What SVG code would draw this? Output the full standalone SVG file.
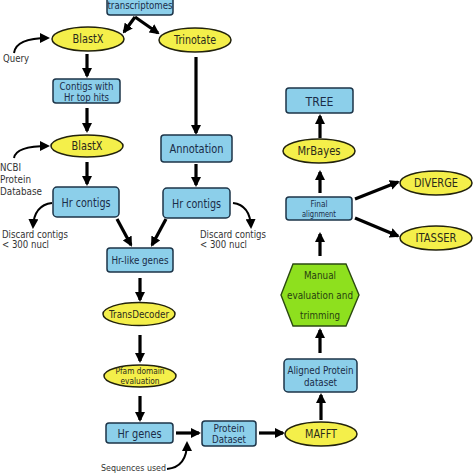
<svg xmlns="http://www.w3.org/2000/svg" width="474" height="474" viewBox="0 0 474 474">
<defs>
<marker id="ah" viewBox="0 0 10 10" refX="8" refY="5" markerWidth="10" markerHeight="10" markerUnits="userSpaceOnUse" orient="auto">
<path d="M0,0 L10,5 L0,10 z" fill="#000"/>
</marker>
<style>
.box{fill:#8ccfea;stroke:#1c3448;stroke-width:1.5}
.ell{fill:#f4ef4a;stroke:#22220c;stroke-width:1.5}
.hex{fill:#8ee01e;stroke:#2b4a10;stroke-width:1.4}
text{font-family:"DejaVu Sans","Liberation Sans",sans-serif;text-anchor:middle}
.bt{fill:#1a2c48;font-size:10.5px}
.et{fill:#2a2a1a;font-size:11.5px}
.ht{fill:#284010;font-size:10.3px}
.pt{fill:#333;font-size:10px;text-anchor:start}
.thick{stroke:#000;stroke-width:3.2;fill:none;marker-end:url(#ah)}
.thin{stroke:#000;stroke-width:2;fill:none;marker-end:url(#ah)}
</style>
</defs>
<rect width="474" height="474" fill="#fff"/>

<g id="connectors">
<path class="thick" d="M135,17 L124,32"/>
<path class="thick" d="M135,17 L158,33"/>
<path class="thick" d="M87,54 L87,76"/>
<path class="thick" d="M87,108 L87,131"/>
<path class="thick" d="M87,162 L87,184"/>
<path class="thick" d="M196,57 L196,133"/>
<path class="thick" d="M196,164 L196,185"/>
<path class="thick" d="M117,219 L131,245"/>
<path class="thick" d="M166,219 L152,245"/>
<path class="thick" d="M140,278 L140,300"/>
<path class="thick" d="M140,335 L140,361"/>
<path class="thick" d="M140,396 L140,420"/>
<path class="thick" d="M176,433 L199,433"/>
<path class="thick" d="M259,433 L283,433"/>
<path class="thick" d="M321,420 L321,395"/>
<path class="thick" d="M320,353 L320,330"/>
<path class="thick" d="M320,256 L320,234"/>
<path class="thick" d="M320,193 L320,172"/>
<path class="thick" d="M320,138 L320,116"/>
<path class="thick" d="M355,199 L398,182"/>
<path class="thick" d="M355,218 L398,236"/>
<path class="thin" d="M14,53 Q16,38 48,38"/>
<path class="thin" d="M14,158 Q16,146 48,146"/>
<path class="thin" d="M52,203 Q34,205 33,227"/>
<path class="thin" d="M233,203 Q250,205 251,227"/>
<path class="thin" d="M167,469 Q187,467 187,443"/>
</g>

<g id="n-transcriptomes"><rect class="box" x="107" y="-10" width="66" height="25" rx="3"/><text class="bt" x="140" y="9" textLength="65" lengthAdjust="spacingAndGlyphs">transcriptomes</text></g>
<g id="n-blastx1"><ellipse class="ell" cx="88" cy="39" rx="36" ry="12"/><text class="et" x="88" y="43" textLength="31" lengthAdjust="spacingAndGlyphs">BlastX</text></g>
<g id="n-trinotate"><ellipse class="ell" cx="195" cy="40" rx="36" ry="12"/><text class="et" x="195" y="44" textLength="42" lengthAdjust="spacingAndGlyphs">Trinotate</text></g>
<g id="n-query"><text class="pt" x="3" y="62" textLength="26" lengthAdjust="spacingAndGlyphs">Query</text></g>
<g id="n-contigs"><rect class="box" x="53" y="79" width="67" height="24" rx="3"/><text class="bt" x="86.5" y="89.5" textLength="54" lengthAdjust="spacingAndGlyphs">Contigs with</text><text class="bt" x="86.5" y="100.5" textLength="45" lengthAdjust="spacingAndGlyphs">Hr top hits</text></g>
<g id="n-blastx2"><ellipse class="ell" cx="87" cy="146" rx="36" ry="11"/><text class="et" x="87" y="150" textLength="31" lengthAdjust="spacingAndGlyphs">BlastX</text></g>
<g id="n-ncbi"><text class="pt" x="0" y="171" textLength="21" lengthAdjust="spacingAndGlyphs">NCBI</text><text class="pt" x="0" y="183" textLength="31" lengthAdjust="spacingAndGlyphs">Protein</text><text class="pt" x="0" y="195" textLength="42" lengthAdjust="spacingAndGlyphs">Database</text></g>
<g id="n-annotation"><rect class="box" x="161" y="135" width="71" height="27" rx="3"/><text class="bt" x="196.5" y="153" style="font-size:12px" textLength="54" lengthAdjust="spacingAndGlyphs">Annotation</text></g>
<g id="n-hrcontigs-l"><rect class="box" x="53" y="187" width="66" height="30" rx="4"/><text class="bt" x="86" y="207" style="font-size:11.5px" textLength="49" lengthAdjust="spacingAndGlyphs">Hr contigs</text></g>
<g id="n-hrcontigs-r"><rect class="box" x="163" y="188" width="67" height="30" rx="4"/><text class="bt" x="196.5" y="208" style="font-size:11.5px" textLength="49" lengthAdjust="spacingAndGlyphs">Hr contigs</text></g>
<g id="n-discard-l"><text class="pt" x="2" y="238" textLength="66" lengthAdjust="spacingAndGlyphs">Discard contigs</text><text class="pt" x="2" y="248" textLength="47" lengthAdjust="spacingAndGlyphs">&lt; 300 nucl</text></g>
<g id="n-discard-r"><text class="pt" x="200" y="238" textLength="66" lengthAdjust="spacingAndGlyphs">Discard contigs</text><text class="pt" x="200" y="248" textLength="47" lengthAdjust="spacingAndGlyphs">&lt; 300 nucl</text></g>
<g id="n-hrlike"><rect class="box" x="107" y="248" width="66" height="24" rx="3"/><text class="bt" x="140" y="263.5" textLength="57" lengthAdjust="spacingAndGlyphs">Hr-like genes</text></g>
<g id="n-transdecoder"><ellipse class="ell" cx="139" cy="314" rx="36" ry="11.5"/><text class="et" x="139" y="318" style="font-size:10.5px" textLength="60" lengthAdjust="spacingAndGlyphs">TransDecoder</text></g>
<g id="n-pfam"><ellipse class="ell" cx="140" cy="376" rx="36" ry="11"/><text class="et" x="140" y="374" style="font-size:8.6px" textLength="49" lengthAdjust="spacingAndGlyphs">Pfam domain</text><text class="et" x="140" y="384" style="font-size:8.6px" textLength="39" lengthAdjust="spacingAndGlyphs">evaluation</text></g>
<g id="n-hrgenes"><rect class="box" x="106" y="423" width="67" height="20" rx="3"/><text class="bt" x="139.5" y="437.5" style="font-size:11.5px" textLength="44" lengthAdjust="spacingAndGlyphs">Hr genes</text></g>
<g id="n-sequences"><text class="pt" x="101" y="471" style="font-size:9.4px" textLength="65" lengthAdjust="spacingAndGlyphs">Sequences used</text></g>
<g id="n-protein"><rect class="box" x="202" y="421" width="54" height="25" rx="3"/><text class="bt" x="229" y="431.5" textLength="31" lengthAdjust="spacingAndGlyphs">Protein</text><text class="bt" x="229" y="443" textLength="34" lengthAdjust="spacingAndGlyphs">Dataset</text></g>
<g id="n-mafft"><ellipse class="ell" cx="321" cy="434" rx="36" ry="12"/><text class="et" x="321" y="438" textLength="32" lengthAdjust="spacingAndGlyphs">MAFFT</text></g>
<g id="n-aligned"><rect class="box" x="284" y="359" width="73" height="33" rx="4"/><text class="bt" x="320.5" y="373.5" textLength="66" lengthAdjust="spacingAndGlyphs">Aligned Protein</text><text class="bt" x="320.5" y="385.5" textLength="33" lengthAdjust="spacingAndGlyphs">dataset</text></g>
<g id="n-manual"><polygon class="hex" points="293,264 346,264 359,295 346,326 293,326 281,295"/><text class="ht" x="320" y="278.5" textLength="32" lengthAdjust="spacingAndGlyphs">Manual</text><text class="ht" x="320" y="298.5" textLength="66" lengthAdjust="spacingAndGlyphs">evaluation and</text><text class="ht" x="320" y="318.5" textLength="40" lengthAdjust="spacingAndGlyphs">trimming</text></g>
<g id="n-final"><rect class="box" x="286" y="197" width="66" height="23" rx="3"/><text class="bt" x="319" y="207" style="font-size:8.4px" textLength="17" lengthAdjust="spacingAndGlyphs">Final</text><text class="bt" x="319" y="217" style="font-size:8.4px" textLength="34" lengthAdjust="spacingAndGlyphs">alignment</text></g>
<g id="n-mrbayes"><ellipse class="ell" cx="319" cy="151" rx="36" ry="12"/><text class="et" x="319" y="155" textLength="43" lengthAdjust="spacingAndGlyphs">MrBayes</text></g>
<g id="n-tree"><rect class="box" x="286" y="88" width="67" height="25" rx="3"/><text class="bt" x="319.5" y="105.5" style="font-size:12.5px" textLength="28" lengthAdjust="spacingAndGlyphs">TREE</text></g>
<g id="n-diverge"><ellipse class="ell" cx="436" cy="183" rx="36" ry="12"/><text class="et" x="436" y="187" textLength="44" lengthAdjust="spacingAndGlyphs">DIVERGE</text></g>
<g id="n-itasser"><ellipse class="ell" cx="436" cy="238" rx="36" ry="12"/><text class="et" x="436" y="242" textLength="41" lengthAdjust="spacingAndGlyphs">ITASSER</text></g>
</svg>
